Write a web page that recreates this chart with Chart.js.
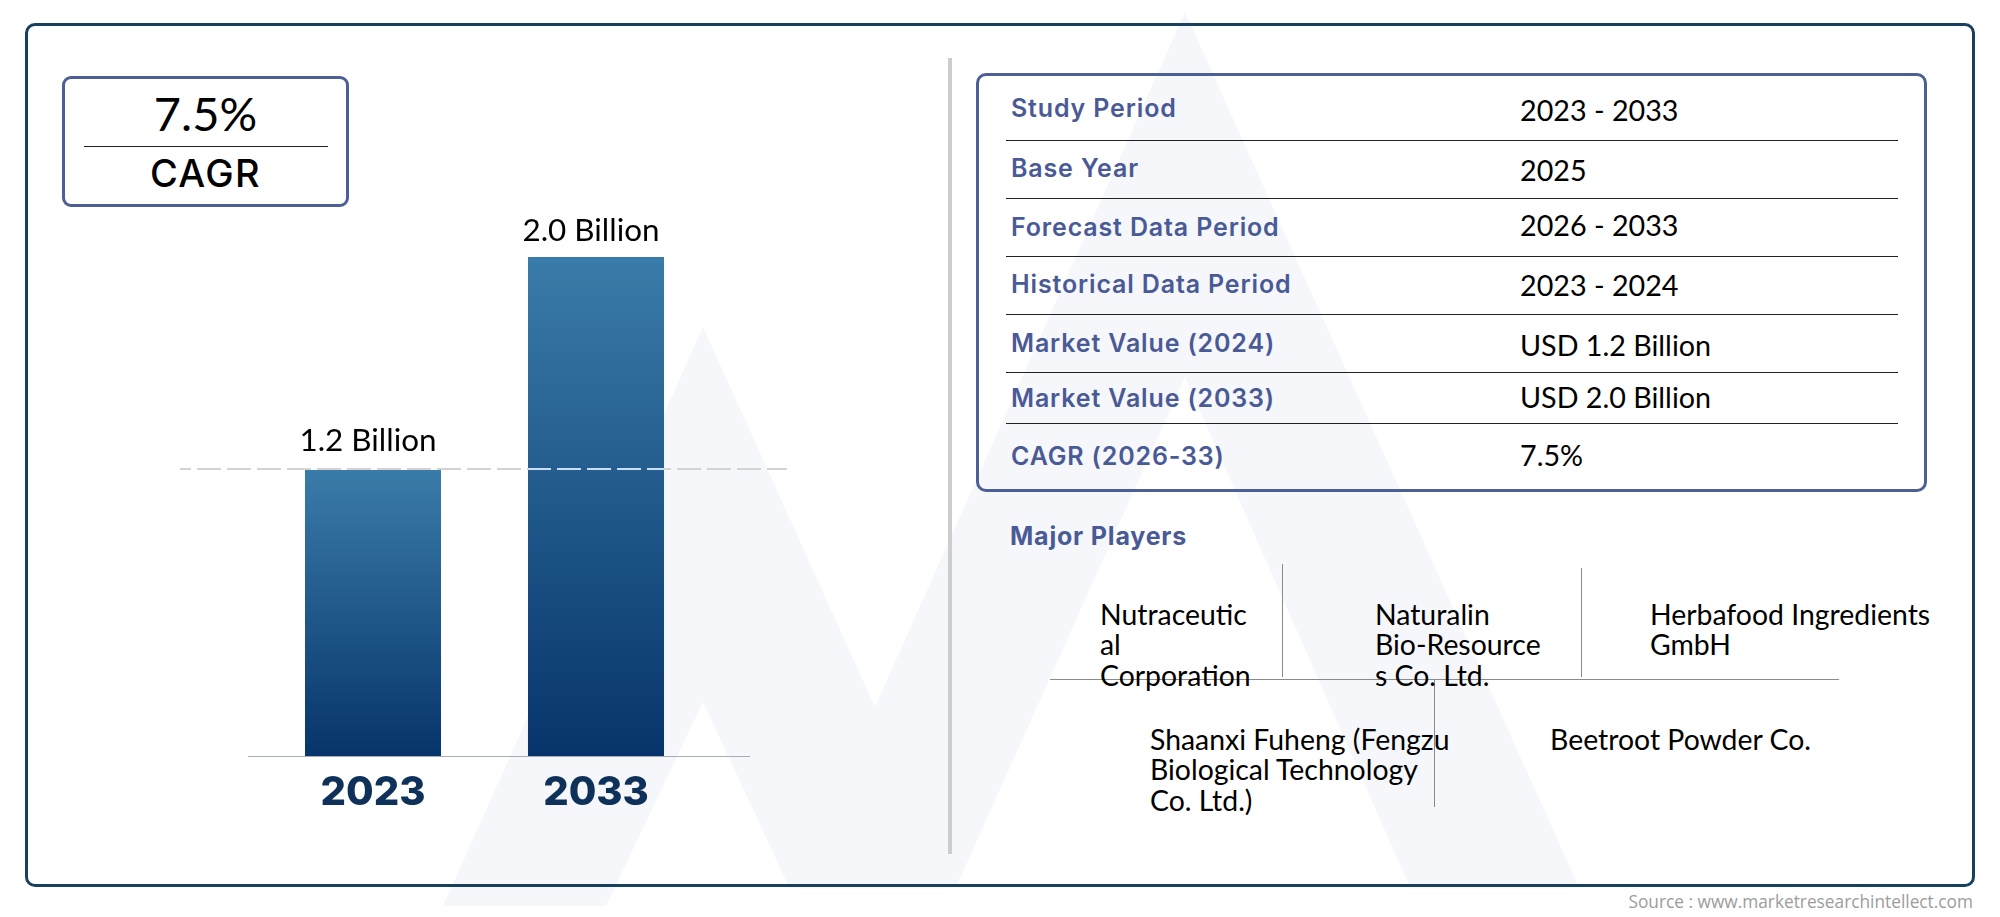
<!DOCTYPE html>
<html>
<head>
<meta charset="utf-8">
<title>Market size</title>
<script src="https://cdn.jsdelivr.net/npm/chart.js@4"></script>
<style>
  html, body { margin: 0; padding: 0; background: #fff; }
  body { position: relative; width: 2000px; height: 917px; overflow: hidden; font-family: Lato, sans-serif; color: #000; }
  #watermark { position: absolute; left: 0; top: 0; }
  #frame { position: absolute; left: 25px; top: 23px; width: 1944px; height: 858px; border: 3px solid #17415f; border-radius: 10px; }
  #cagrBox { position: absolute; left: 62px; top: 76px; width: 281px; height: 125px; border: 3px solid #4d5f94; border-radius: 9px; }
  #cagrValue { position: absolute; left: 62px; width: 287px; top: 83px; text-align: center; font-size: 47px; line-height: 60px; }
  #cagrRule { position: absolute; left: 84px; top: 146px; width: 244px; height: 1px; background: #222; }
  #cagrLabel { position: absolute; left: 62px; width: 287px; top: 151px; text-align: center; font: 500 38px/44px Inter, sans-serif; letter-spacing: 1.4px; }
  #divider { position: absolute; left: 947.5px; top: 58px; width: 4px; height: 796px; background: #cdcdcd; }
  #infoBox { position: absolute; left: 976px; top: 73px; width: 945px; height: 413px; border: 3px solid #4d5f94; border-radius: 10px; }
  #chartWrap { position: absolute; left: 180px; top: 200px; width: 620px; height: 620px; }
  .rule { position: absolute; left: 1006px; width: 892px; height: 1.4px; background: #222; }
  .info-label { position: absolute; left: 1011px; font: 600 25px/30px Inter, sans-serif; letter-spacing: 0.85px; color: #4a5a96; white-space: nowrap; }
  .info-value { position: absolute; left: 1520px; font-size: 28.7px; line-height: 36px; white-space: nowrap; }
  #playersTitle { position: absolute; left: 1010px; top: 521px; font: 700 25px/30px Inter, sans-serif; letter-spacing: 0.8px; color: #4a5a96; white-space: nowrap; }
  .player { position: absolute; font-size: 28.4px; line-height: 30.5px; white-space: pre; }
  .hline, .vline { position: absolute; background: #8a8a8a; }
  #source { position: absolute; right: 27px; top: 891px; font: 17.3px/22px "Open Sans", sans-serif; color: #9c9c9c; white-space: nowrap; }
</style>
</head>
<body>
<svg id="watermark" width="2000" height="917">
  <polygon fill="#f5f7fb" points="443,906 703,327 875,707 1185,12 1578,885 1409,885 1185,377 957,885 788,885 703,702 606,906"/>
</svg>
<div id="frame"></div>
<div id="cagrBox"></div>
<div id="cagrValue"></div>
<div id="cagrRule"></div>
<div id="cagrLabel"></div>
<div id="divider"></div>
<div id="infoBox"></div>
<div id="chartWrap"><canvas id="marketChart" width="620" height="620"></canvas></div>
<div id="playersTitle"></div>
<div class="hline" style="left:1050px;top:679px;width:789px;height:1.3px"></div>
<div class="vline" style="left:1282px;top:564px;width:1.2px;height:113px"></div>
<div class="vline" style="left:1581px;top:568px;width:1.2px;height:109px"></div>
<div class="vline" style="left:1434px;top:679px;width:1.2px;height:128px"></div>
<div id="source"></div>

<script>
// chart data
const categories = ["2023", "2033"];
const marketValues = [1.2, 2.0];
const valueLabels = ["1.2 Billion", "2.0 Billion"];
const cagrValue = "7.5%";
const cagrLabel = "CAGR";

// info table + players text
const tableLabels = ["Study Period", "Base Year", "Forecast Data Period", "Historical Data Period", "Market Value (2024)", "Market Value (2033)", "CAGR (2026-33)"];
const tableValues = ["2023 - 2033", "2025", "2026 - 2033", "2023 - 2024", "USD 1.2 Billion", "USD 2.0 Billion", "7.5%"];
const playersTitle = "Major Players";
const playerNames = ["Nutraceutic\nal\nCorporation", "Naturalin\nBio-Resource\ns Co. Ltd.", "Herbafood Ingredients\nGmbH", "Shaanxi Fuheng (Fengzu\nBiological Technology\nCo. Ltd.)", "Beetroot Powder Co."];
const sourceText = "Source : www.marketresearchintellect.com";

// layout of the html bits (pixels on the page)
const labelCenters = [108, 168, 227, 284, 343, 398, 456];
const valueCenters = [109.5, 169.5, 224.5, 284.5, 344.5, 396.5, 454.5];
const ruleTops = [140, 198, 256, 314, 372, 423];
const playerLeft = [1100, 1375, 1650, 1150, 1550];
const playerTop = [598.5, 598.5, 598.5, 723.5, 723.5];
// bar label gap above each bar
const labelGaps = [19, 16];

document.getElementById("cagrValue").textContent = cagrValue;
document.getElementById("cagrLabel").textContent = cagrLabel;
document.getElementById("playersTitle").textContent = playersTitle;
document.getElementById("source").textContent = sourceText;

function addDiv(cls, text, left, top) {
  const el = document.createElement("div");
  el.className = cls;
  el.textContent = text;
  if (left !== null) el.style.left = left + "px";
  el.style.top = top + "px";
  document.body.appendChild(el);
}
tableLabels.forEach((t, i) => addDiv("info-label", t, null, labelCenters[i] - 15));
tableValues.forEach((t, i) => addDiv("info-value", t, null, valueCenters[i] - 18));
ruleTops.forEach(y => addDiv("rule", "", null, y));
playerNames.forEach((t, i) => addDiv("player", t, playerLeft[i], playerTop[i]));

// baseline, dashed reference line and value labels
const overlayPlugin = {
  id: "overlay",
  afterDatasetsDraw(chart) {
    const { ctx, chartArea, scales } = chart;
    const bars = chart.getDatasetMeta(0).data;
    ctx.save();

    ctx.strokeStyle = "#a6adb6";
    ctx.lineWidth = 1.2;
    ctx.beginPath();
    ctx.moveTo(chartArea.left - 13.5, chartArea.bottom + 0.5);
    ctx.lineTo(chartArea.right + 42.5, chartArea.bottom + 0.5);
    ctx.stroke();

    const refY = scales.y.getPixelForValue(marketValues[0]) - 1;
    const drawDashes = (color) => {
      ctx.strokeStyle = color;
      ctx.lineWidth = 1.8;
      ctx.setLineDash([24, 6]);
      ctx.lineDashOffset = 13;
      ctx.beginPath();
      ctx.moveTo(0, refY);
      ctx.lineTo(607, refY);
      ctx.stroke();
    };
    drawDashes("#d3d3d3");
    ctx.save();
    const b = bars[1];
    ctx.beginPath();
    ctx.rect(b.x - b.width / 2, chartArea.top, b.width, chartArea.height);
    ctx.clip();
    drawDashes("#c6dff3");
    ctx.restore();
    ctx.setLineDash([]);

    ctx.fillStyle = "#000";
    ctx.font = "31.4px Lato, sans-serif";
    ctx.textAlign = "center";
    ctx.textBaseline = "alphabetic";
    bars.forEach((bar, i) => {
      ctx.fillText(valueLabels[i], bar.x - 5, bar.y - labelGaps[i]);
    });
    ctx.restore();
  }
};

function barGradient(context) {
  const chart = context.chart;
  if (!chart.chartArea || context.type !== "data") return "#1d5a8c";
  const top = chart.scales.y.getPixelForValue(context.parsed.y);
  const g = chart.ctx.createLinearGradient(0, top, 0, chart.chartArea.bottom);
  g.addColorStop(0, "#3a7ca9");
  g.addColorStop(1, "#07346b");
  return g;
}

new Chart(document.getElementById("marketChart").getContext("2d"), {
  type: "bar",
  data: {
    labels: categories,
    datasets: [{
      label: "Market value",
      data: marketValues,
      backgroundColor: barGradient,
      borderWidth: 0,
      barPercentage: 0.61,
      categoryPercentage: 1
    }]
  },
  options: {
    responsive: false,
    animation: false,
    layout: { padding: { left: 81.5, right: 92.5, top: 57, bottom: 0 } },
    plugins: { legend: { display: false }, tooltip: { enabled: false } },
    scales: {
      x: {
        grid: { display: false },
        border: { display: false },
        afterFit(scale) { scale.height = 64; },
        ticks: { color: "#0d3158", font: { family: "Inter, sans-serif", size: 40, weight: "800" }, padding: 5 }
      },
      y: { display: false, min: 0.126, max: 2.0 }
    }
  },
  plugins: [overlayPlugin]
});
</script>
</body>
</html>
